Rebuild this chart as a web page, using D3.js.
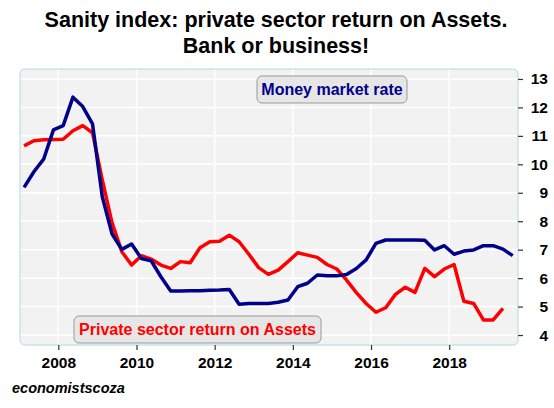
<!DOCTYPE html>
<html>
<head>
<meta charset="utf-8">
<script src="https://cdn.jsdelivr.net/npm/d3@7"></script>
<style>
  body { margin: 0; background: #fff; }
  svg { font-family: 'Liberation Sans', Arial, sans-serif; }
</style>
</head>
<body>
<div class="canvas"></div>
<script>
// quarterly observations, first quarter of 2007 onward
const startYear = 2007;
const moneyMarket = [
  9.19, 9.74, 10.18, 11.21, 11.36, 12.36, 12.03, 11.42, 8.86, 7.55,
  7.01, 7.20, 6.69, 6.61, 6.05, 5.55, 5.55, 5.56, 5.56, 5.57,
  5.58, 5.60, 5.08, 5.11, 5.11, 5.11, 5.15, 5.23, 5.70, 5.82,
  6.11, 6.08, 6.08, 6.13, 6.34, 6.64, 7.22, 7.34, 7.34, 7.34,
  7.34, 7.33, 6.99, 7.14, 6.84, 6.95, 6.99, 7.14, 7.14, 7.02,
  6.79
];
const returnOnAssets = [
  10.65, 10.83, 10.86, 10.87, 10.88, 11.18, 11.36, 11.11, 9.45, 7.94,
  6.93, 6.46, 6.79, 6.67, 6.46, 6.34, 6.58, 6.54, 7.07, 7.28,
  7.30, 7.51, 7.28, 6.84, 6.37, 6.13, 6.28, 6.58, 6.89, 6.81,
  6.73, 6.48, 6.32, 5.93, 5.49, 5.11, 4.80, 4.96, 5.43, 5.68,
  5.50, 6.34, 6.05, 6.32, 6.48, 5.19, 5.11, 4.53, 4.53, 4.94
];
const xTicks = [2008, 2010, 2012, 2014, 2016, 2018];
const yTicks = [4, 5, 6, 7, 8, 9, 10, 11, 12, 13];

const quarterDate = i => startYear + 0.125 + i * 0.25;

const width = 554;
const height = 408;
const margin = { top: 69, right: 36, bottom: 63, left: 20 };
const graphWidth = width - margin.left - margin.right;
const graphHeight = height - margin.top - margin.bottom;

const svg = d3.select('.canvas')
  .append('svg')
  .attr('width', width)
  .attr('height', height);

// title
const title = svg.append('text')
  .attr('text-anchor', 'middle')
  .attr('font-size', '21.5px')
  .attr('font-weight', 'bold')
  .attr('fill', '#000');
title.append('tspan').attr('x', 276).attr('y', 27).text('Sanity index: private sector return on Assets.');
title.append('tspan').attr('x', 276).attr('y', 53).text('Bank or business!');

const graph = svg.append('g')
  .attr('transform', `translate(${margin.left}, ${margin.top})`);

const x = d3.scaleLinear().domain([2007.02, 2019.76]).range([0, graphWidth]);
const y = d3.scaleLinear().domain([3.65, 13.35]).range([graphHeight, 0]);

// panel
graph.append('rect')
  .attr('width', graphWidth)
  .attr('height', graphHeight)
  .attr('rx', 5)
  .attr('fill', '#f2f2f2');

graph.append('g')
  .selectAll('line.h')
  .data(yTicks)
  .join('line')
  .attr('x1', 0).attr('x2', graphWidth)
  .attr('y1', d => y(d)).attr('y2', d => y(d))
  .attr('stroke', '#fff').attr('stroke-width', 1.5);

graph.append('g')
  .selectAll('line.v')
  .data(xTicks)
  .join('line')
  .attr('x1', d => x(d)).attr('x2', d => x(d))
  .attr('y1', 0).attr('y2', graphHeight)
  .attr('stroke', '#fff').attr('stroke-width', 1.5);

graph.append('rect')
  .attr('width', graphWidth)
  .attr('height', graphHeight)
  .attr('rx', 5)
  .attr('fill', 'none')
  .attr('stroke', '#c9e4ee')
  .attr('stroke-width', 1.5);

// axes
const xAxis = d3.axisBottom(x).tickValues(xTicks).tickFormat(d3.format('d')).tickSize(5).tickPadding(7);
const yAxis = d3.axisRight(y).tickValues(yTicks).tickSize(5).tickPadding(5);

const xAxisGroup = graph.append('g')
  .attr('transform', `translate(0, ${graphHeight})`)
  .call(xAxis);
const yAxisGroup = graph.append('g')
  .attr('transform', `translate(${graphWidth}, 0)`)
  .call(yAxis);

[xAxisGroup, yAxisGroup].forEach(g => {
  g.select('.domain').remove();
  g.selectAll('.tick line').attr('stroke', '#333').attr('stroke-width', 1.2);
  g.selectAll('text')
    .attr('fill', '#000')
    .style('font-size', '15.5px')
    .style('font-weight', 'bold')
    .style('font-family', "'Liberation Sans', Arial, sans-serif");
});
yAxisGroup.selectAll('text').attr('text-anchor', 'end').attr('x', 30);

// series
const line = d3.line()
  .x((d, i) => x(quarterDate(i)))
  .y(d => y(d));

graph.append('path')
  .datum(returnOnAssets)
  .attr('fill', 'none')
  .attr('stroke', '#ff0000')
  .attr('stroke-width', 3.5)
  .attr('stroke-linejoin', 'round')
  .attr('d', line);

graph.append('path')
  .datum(moneyMarket)
  .attr('fill', 'none')
  .attr('stroke', '#00008b')
  .attr('stroke-width', 3.5)
  .attr('stroke-linejoin', 'round')
  .attr('d', line);

// labels
const label = (text, cx, cy, w, color) => {
  const g = graph.append('g');
  g.append('rect')
    .attr('x', cx - w / 2).attr('y', cy - 13.5)
    .attr('width', w).attr('height', 27)
    .attr('rx', 5)
    .attr('fill', '#e6e6e6')
    .attr('stroke', '#999')
    .attr('stroke-width', 1);
  g.append('text')
    .attr('x', cx).attr('y', cy)
    .attr('dy', '0.35em')
    .attr('text-anchor', 'middle')
    .attr('font-size', '16px')
    .attr('font-weight', 'bold')
    .attr('fill', color)
    .text(text);
};
label('Money market rate', 332 - margin.left, 89.5 - margin.top, 150, '#00008b');
label('Private sector return on Assets', 197.5 - margin.left, 329.5 - margin.top, 247, '#ff0000');

// source
svg.append('text')
  .attr('x', 12).attr('y', 393)
  .attr('font-size', '14.5px')
  .attr('font-weight', 'bold')
  .attr('font-style', 'italic')
  .attr('fill', '#000')
  .text('economistscoza');
</script>
</body>
</html>
